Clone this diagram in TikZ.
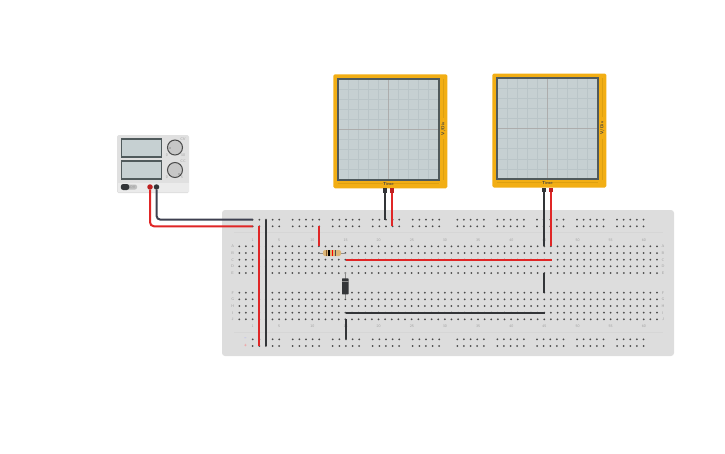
\documentclass[tikz,border=0pt]{standalone}
\usepackage{tikz}
\definecolor{boardgray}{HTML}{DDDDDD}
\definecolor{holegray}{HTML}{4A4A4A}
\definecolor{labelgray}{HTML}{A0A0A0}
\definecolor{lcdgray}{HTML}{C6D0D2}
\definecolor{lcdedge}{HTML}{505A5C}
\definecolor{gridgray}{HTML}{BAC5C8}
\definecolor{scopeorange}{HTML}{F2AE14}
\definecolor{scopeline}{HTML}{DDA010}
\definecolor{wirered}{HTML}{E02626}
\definecolor{wireblack}{HTML}{333538}
\definecolor{wireslate}{HTML}{3E4050}
\definecolor{leadgray}{HTML}{8C8C8C}
\definecolor{resbody}{HTML}{DDB676}
\tikzset{
  blockbox/.style={draw=none, inner sep=0pt, outer sep=0pt},
  redwire/.style={draw=wirered, line width=2pt, rounded corners=4pt},
  blackwire/.style={draw=wireblack, line width=2pt, rounded corners=4pt},
  tinytext/.style={inner sep=0pt, text=labelgray, font=\fontsize{3.8}{4}\selectfont\sffamily},
  scopetext/.style={inner sep=0pt, text=black!75, font=\fontsize{4.4}{4}\selectfont\sffamily\bfseries},
}
\begin{document}
\begin{tikzpicture}[x=1pt, y=-1pt]
\useasboundingbox (0,0) rectangle (725,453);
% power supply
\node[blockbox, fill=black!12, rounded corners=1.5pt, minimum width=72pt, minimum height=58pt] (PS) at (153,164) {};
\node[blockbox, fill=black!8, minimum width=71pt, minimum height=9pt] (PSstrip) at (153,187.5) {};
\node[blockbox, fill=lcdgray, draw=lcdedge, line width=1.4pt, minimum width=40pt, minimum height=18pt] (LCD1) at (141.5,148) {};
\node[blockbox, fill=lcdgray, draw=lcdedge, line width=1.4pt, minimum width=40pt, minimum height=18pt] (LCD2) at (141.5,170) {};
\node[blockbox, circle, fill=black!22, draw=black!70, line width=1pt, minimum size=15pt] (KnobV) at (175,147.5) {};
\node[blockbox, circle, fill=black!22, draw=black!70, line width=1pt, minimum size=15pt] (KnobA) at (175,170) {};
\fill[black!70] (170,148) circle (.7pt);
\fill[black!70] (179,174) circle (.7pt);
\node[tinytext] (KV0) at (167,155) {0};
\node[tinytext] (KV1) at (183,155) {30};
\node[tinytext] (KV2) at (183,139) {CV};
\node[tinytext] (KA0) at (167,177) {0};
\node[tinytext] (KA1) at (182,177) {5};
\node[tinytext] (KA2) at (183,161) {CC};
\node[blockbox, fill=black!25, rounded corners=2pt, minimum width=15pt, minimum height=5pt] (SwitchBase) at (129.5,187) {};
\node[blockbox, fill=wireblack, rounded corners=2.5pt, minimum width=8.5pt, minimum height=6pt] (Switch) at (125,187) {};
\node[tinytext] (SwitchTxt) at (132.5,187) {Off};
\node[blockbox, circle, fill=wirered!85!black, minimum size=5.5pt] (PSred) at (150,187) {};
\node[blockbox, circle, fill=wireblack, minimum size=5.5pt] (PSblack) at (156.5,187) {};
% oscilloscopes
\foreach \ox/\oy/\nm/\pb/\pr in {333.3/74.3/A/385/391.5, 492.3/73.5/B/544/550.5} {
  \node[blockbox, fill=scopeorange, rounded corners=1.5pt, anchor=north west, minimum width=114pt, minimum height=114pt] (Scope\nm) at (\ox,\oy) {};
  \node[blockbox, fill=lcdgray, anchor=north west, minimum width=101pt, minimum height=101pt] (Screen\nm) at (\ox+4.5,\oy+4.5) {};
  \foreach \g in {1,...,9} {
    \draw[gridgray, line width=.6pt] (\ox+4.5+\g*10.1,\oy+4.5) -- ++(0,101);
    \draw[gridgray, line width=.6pt] (\ox+4.5,\oy+4.5+\g*10.1) -- ++(101,0);
  }
  \draw[black!32, line width=1.2pt] (\ox+55,\oy+4.5) -- ++(0,101);
  \draw[black!32, line width=1.2pt] (\ox+4.5,\oy+55) -- ++(101,0);
  \draw[lcdedge, line width=1.4pt] (\ox+4.5,\oy+4.5) rectangle ++(101,101);
  \draw[scopeline, line width=.6pt] (\ox+4.5,\oy+109) -- ++(45,0) (\ox+60,\oy+109) -- ++(46,0);
  \draw[scopeline, line width=.6pt] (\ox+110,\oy+4.5) -- ++(0,39) (\ox+110,\oy+65) -- ++(0,41);
  \node[scopetext] (Time\nm) at (\ox+55,\oy+109.5) {Time};
  \node[scopetext, rotate=90] (Volt\nm) at (\ox+110,\oy+54.5) {V/Div};
  \node[blockbox, fill=wireblack, anchor=north, minimum width=4pt, minimum height=4.5pt] (Pinb\nm) at (\pb,\oy+114) {};
  \node[blockbox, fill=wirered!85!black, anchor=north, minimum width=4pt, minimum height=4.5pt] (Pinr\nm) at (\pr,\oy+114) {};
}
% breadboard
\node[blockbox, fill=boardgray, rounded corners=3pt, anchor=north west, minimum width=452pt, minimum height=146pt] (Board) at (222,210) {};
\draw[black!16, line width=.6pt] (234,232.5) -- (663,232.5);
\draw[black!16, line width=.6pt] (234,332) -- (663,332);
% rails
\foreach \gx in {252.7,292.7,332.7,372.7,412.7,457.3,497.3,537,577,617}
  \foreach \i in {0,...,4}
    \foreach \ry in {219.7,226.3,339.3,346}
      \fill[holegray] ({\gx+\i*6.63},\ry) circle (1pt);
% main rows
\foreach \ry in {246.3,253,259.7,266.3,273,292.7,299.3,306,312.7,319.3}
  \foreach \i in {0,...,63}
    \fill[holegray] ({239.3+\i*6.63},\ry) circle (1pt);
\foreach \ry/\ltr in {246.3/A,253/B,259.7/C,266.3/D,273/E,292.7/F,299.3/G,306/H,312.7/I,319.3/J} {
  \node[tinytext] (RowL\ltr) at (232.7,\ry) {\ltr};
  \node[tinytext] (RowR\ltr) at (663,\ry) {\ltr};
}
\foreach \c in {1,5,10,15,20,25,30,35,40,45,50,55,60} {
  \node[tinytext] (ColT\c) at ({252.7+(\c-1)*6.63},240) {\c};
  \node[tinytext] (ColB\c) at ({252.7+(\c-1)*6.63},326) {\c};
}
\node[tinytext, text=blue!45] (RailMinus) at (245.5,339.3) {\textbf{--}};
\node[tinytext, text=red!55] (RailPlus) at (245.5,346) {\textbf{+}};
% wire ends on the board
\coordinate (Ttop) at (252.7,219.7);
\coordinate (Rtop) at (252.7,226.3);
\coordinate (Bus1a) at (266,219.7);
\coordinate (Bus1b) at (266,346);
\coordinate (Bus2a) at (259.3,226.3);
\coordinate (Bus2b) at (259.3,346);
\coordinate (R1a) at (319.3,226.3);
\coordinate (R1b) at (319.3,246.3);
\coordinate (ScA1) at (385,219.7);
\coordinate (ScA2) at (391.5,226.3);
\coordinate (ScB1) at (544,246.3);
\coordinate (ScB2) at (550.5,246.3);
\coordinate (C15) at (345.5,259.7);
\coordinate (C60) at (551.5,259.7);
\coordinate (I15) at (345.5,312.7);
\coordinate (I60) at (545,312.7);
\coordinate (J15) at (345.5,319.3);
\coordinate (M15) at (345.5,339.3);
\coordinate (E60) at (544,273);
\coordinate (F60) at (544,292.7);
\coordinate (B10) at (319.3,253);
\coordinate (B15) at (345.5,253);
\coordinate (E15) at (345.5,272);
\coordinate (G15) at (345.5,299.3);
% wires
\draw[blackwire, draw=wireslate] (PSblack) -- (156.5,219.7) -- (Ttop);
\draw[redwire] (PSred) -- (150,226.3) -- (Rtop);
\draw[blackwire] (Bus1a) -- (Bus1b);
\draw[redwire] (Bus2a) -- (Bus2b);
\draw[redwire] (R1a) -- (R1b);
\draw[blackwire] (PinbA.south) -- (ScA1);
\draw[redwire] (PinrA.south) -- (ScA2);
\draw[blackwire] (PinbB.south) -- (ScB1);
\draw[redwire] (PinrB.south) -- (ScB2);
\draw[redwire] (C15) -- (C60);
\draw[blackwire] (I15) -- (I60);
\draw[blackwire] (J15) -- (M15);
\draw[blackwire] (E60) -- (F60);
% resistor
\draw[leadgray, line width=1pt] (B10) -- (B15);
\node[blockbox, fill=resbody, rounded corners=2pt, minimum width=18pt, minimum height=6pt] (Res) at (332,253) {};
\foreach \bx/\bc in {326.3/brown!70!black, 329/black, 332.7/red, 335.3/black!70}
  \fill[\bc] (\bx-.7,250) rectangle (\bx+.7,256);
% diode
\draw[leadgray, line width=1pt] (E15) -- (G15);
\node[blockbox, fill=wireblack, rounded corners=.5pt, minimum width=6.5pt, minimum height=16pt] (Diode) at (345.3,286.3) {};
\fill[black!45] (342.05,281) rectangle (348.55,282.2);
\end{tikzpicture}
\end{document}
